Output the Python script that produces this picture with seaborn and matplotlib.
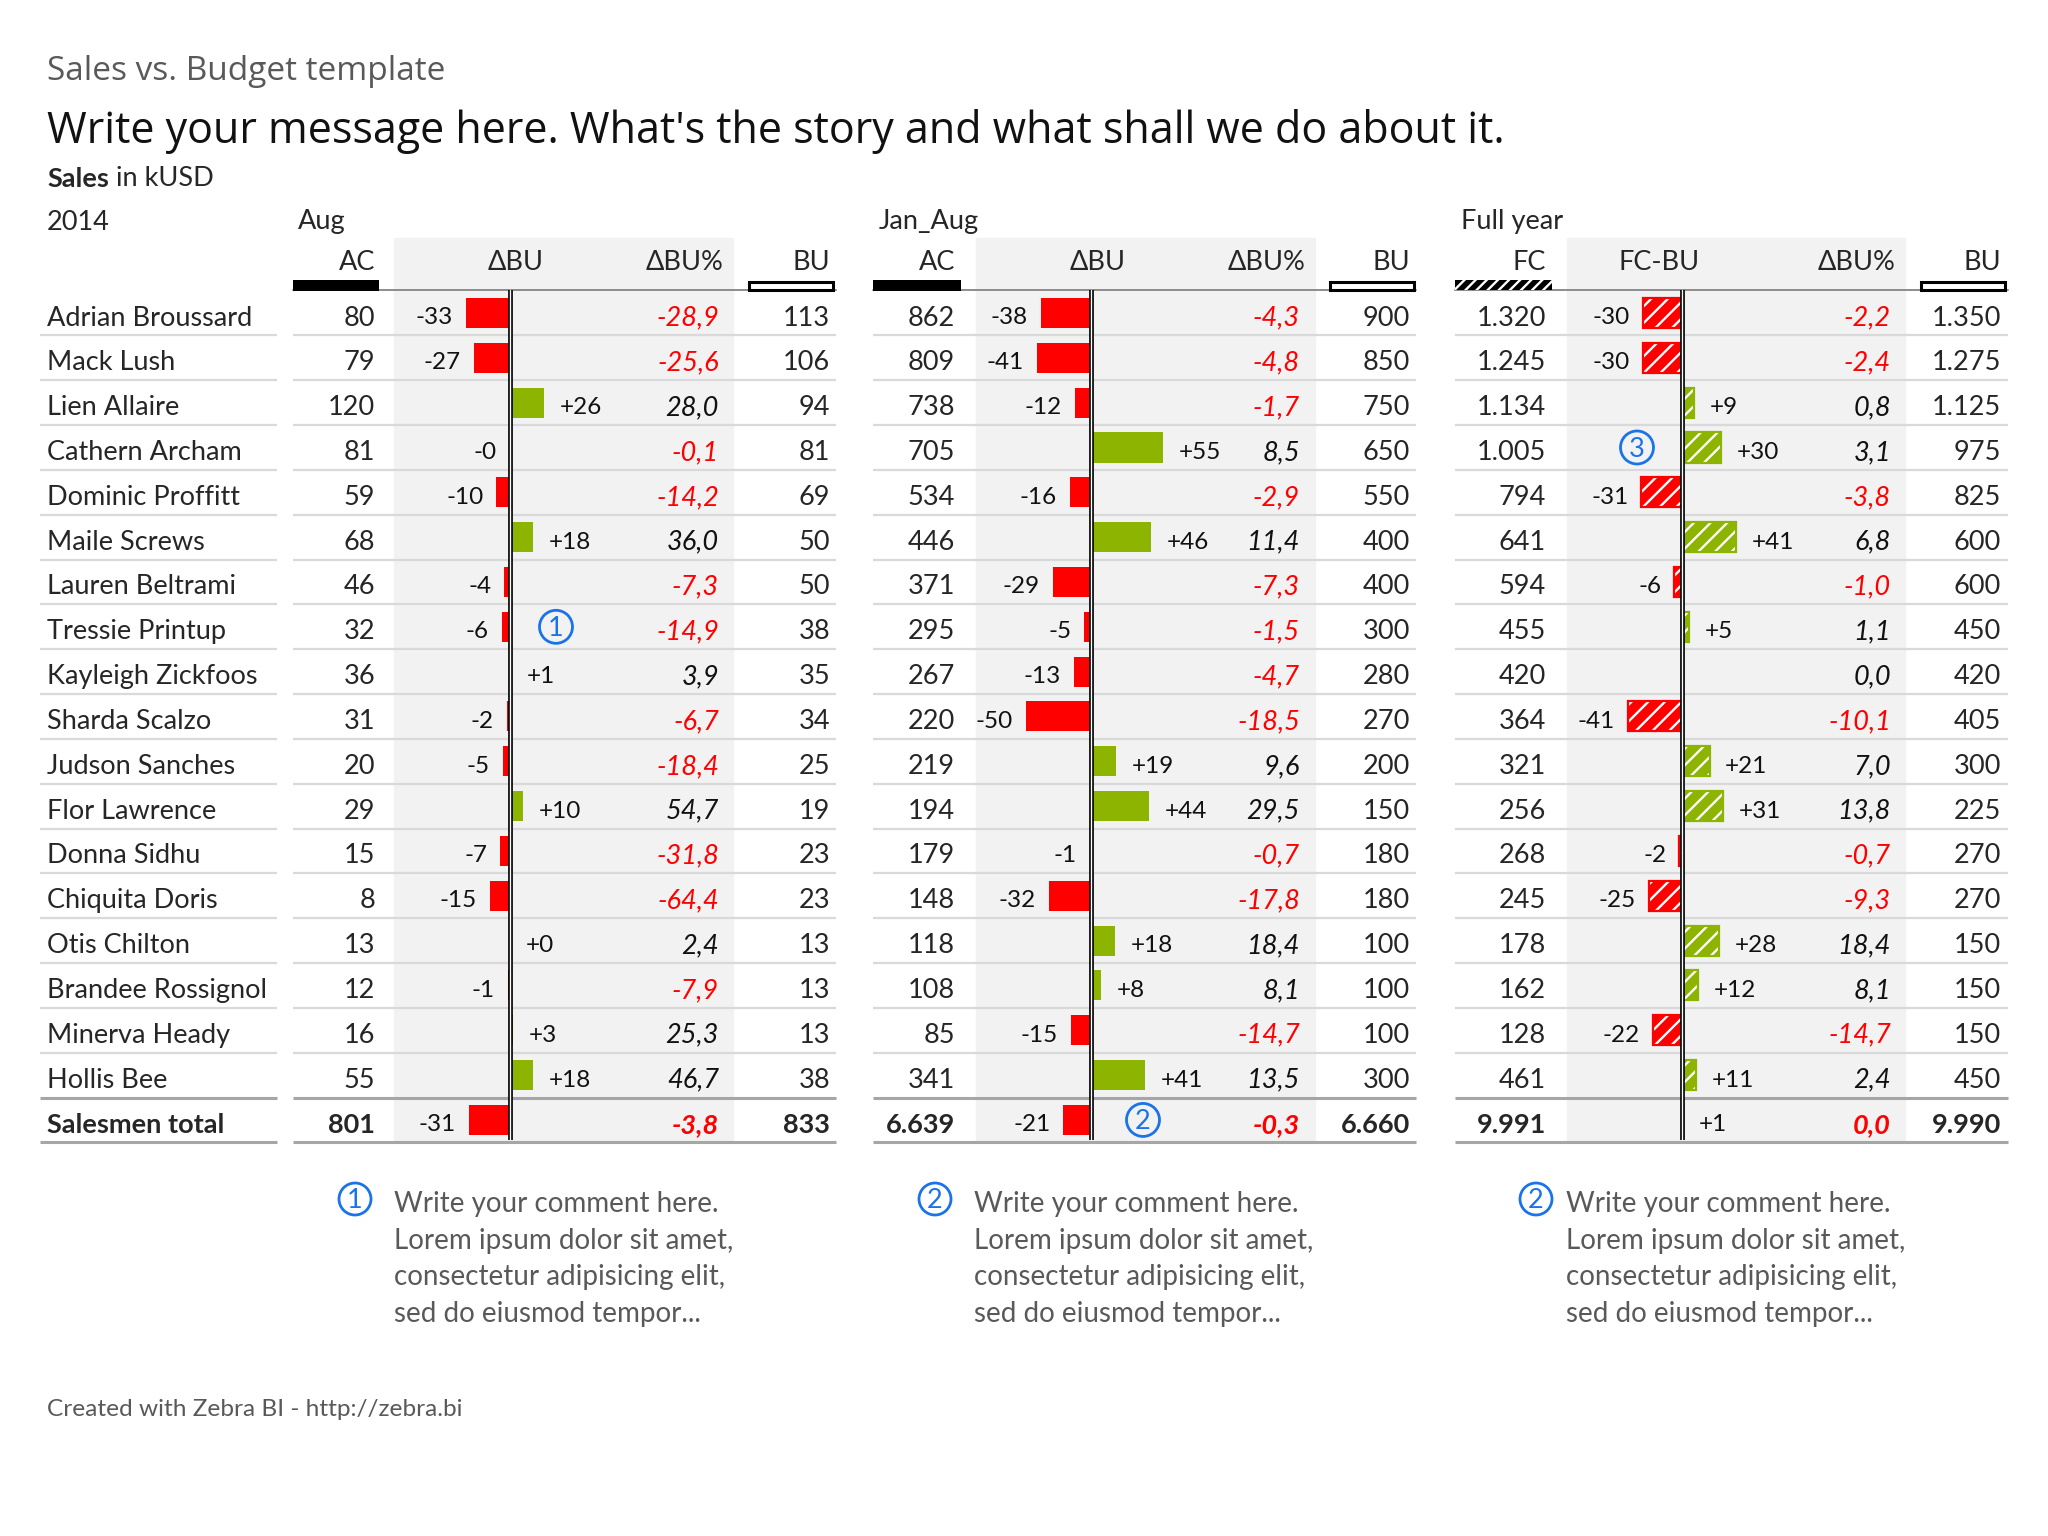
import numpy as np
import pandas as pd
import matplotlib
matplotlib.use("Agg")
import matplotlib.pyplot as plt
from matplotlib.patches import Rectangle, Circle
import seaborn as sns

sns.set_theme(style="white")
plt.rcParams['font.family'] = ['Lato', 'DejaVu Sans']
plt.rcParams['hatch.linewidth'] = 1.7

# ---- data ----
names = ["Adrian Broussard", "Mack Lush", "Lien Allaire", "Cathern Archam",
         "Dominic Proffitt", "Maile Screws", "Lauren Beltrami", "Tressie Printup",
         "Kayleigh Zickfoos", "Sharda Scalzo", "Judson Sanches", "Flor Lawrence",
         "Donna Sidhu", "Chiquita Doris", "Otis Chilton", "Brandee Rossignol",
         "Minerva Heady", "Hollis Bee"]
total_name = "Salesmen total"

aug_ac = [80, 79, 120, 81, 59, 68, 46, 32, 36, 31, 20, 29, 15, 8, 13, 12, 16, 55]
aug_dbu = [-33, -27, 26, -0.08, -10, 18, -4, -6, 1, -2, -5, 10, -7, -15, 0.3, -1, 3, 18]
aug_pct = [-28.9, -25.6, 28.0, -0.1, -14.2, 36.0, -7.3, -14.9, 3.9, -6.7, -18.4, 54.7,
           -31.8, -64.4, 2.4, -7.9, 25.3, 46.7]
aug_bu = [113, 106, 94, 81, 69, 50, 50, 38, 35, 34, 25, 19, 23, 23, 13, 13, 13, 38]
aug_total = [801, -31, -3.8, 833]

ytd_ac = [862, 809, 738, 705, 534, 446, 371, 295, 267, 220, 219, 194, 179, 148, 118, 108, 85, 341]
ytd_dbu = [-38, -41, -12, 55, -16, 46, -29, -5, -13, -50, 19, 44, -1, -32, 18, 8, -15, 41]
ytd_pct = [-4.3, -4.8, -1.7, 8.5, -2.9, 11.4, -7.3, -1.5, -4.7, -18.5, 9.6, 29.5,
           -0.7, -17.8, 18.4, 8.1, -14.7, 13.5]
ytd_bu = [900, 850, 750, 650, 550, 400, 400, 300, 280, 270, 200, 150, 180, 180, 100, 100, 100, 300]
ytd_total = [6639, -21, -0.3, 6660]

fy_fc = [1320, 1245, 1134, 1005, 794, 641, 594, 455, 420, 364, 321, 256, 268, 245, 178, 162, 128, 461]
fy_dbu = [-30, -30, 9, 30, -31, 41, -6, 5, 0, -41, 21, 31, -2, -25, 28, 12, -22, 11]
fy_pct = [-2.2, -2.4, 0.8, 3.1, -3.8, 6.8, -1.0, 1.1, 0.0, -10.1, 7.0, 13.8,
          -0.7, -9.3, 18.4, 8.1, -14.7, 2.4]
fy_bu = [1350, 1275, 1125, 975, 825, 600, 600, 450, 420, 405, 300, 225, 270, 270, 150, 150, 150, 450]
fy_total = [9991, 1, 0.0, 9990]

comment_lines = ["Write your comment here.", "Lorem ipsum dolor sit amet,",
                 "consectetur adipisicing elit,", "sed do eiusmod tempor..."]

# ---- layout (pixels) ----
W, H = 2048, 1536
ROW0, ROWH = 313, 44.83
HDR_LINE, BOTTOM, GREY_TOP = 290, 1140, 238
K = 1.31   # px per unit of delta
DY = 5     # text baseline nudge
RED, GREEN = "#ff0000", "#8cb400"
FS, FS_LAB = 19.5, 17.5

panels = [
    dict(period="Aug", px=298, c1="AC", c2="ΔBU", ac=aug_ac, d=aug_dbu, p=aug_pct, bu=aug_bu,
         tot=aug_total, seg=(293, 836), acbar=(293, 379), bubar=(747, 834), grey=(394, 733),
         axis=509.5, ac_r=375, dlab=516, pct_r=719, bu_r=830, hatch=False, cx=355, tx=394),
    dict(period="Jan_Aug", px=879, c1="AC", c2="ΔBU", ac=ytd_ac, d=ytd_dbu, p=ytd_pct, bu=ytd_bu,
         tot=ytd_total, seg=(873, 1416), acbar=(873, 961), bubar=(1328, 1415), grey=(976, 1315),
         axis=1091, ac_r=955, dlab=1098, pct_r=1300, bu_r=1410, hatch=False, cx=935, tx=974),
    dict(period="Full year", px=1461, c1="FC", c2="FC-BU", ac=fy_fc, d=fy_dbu, p=fy_pct, bu=fy_bu,
         tot=fy_total, seg=(1455, 2008), acbar=(1455, 1552), bubar=(1919, 2006), grey=(1567, 1905),
         axis=1682, ac_r=1546, dlab=1659, pct_r=1891, bu_r=2001, hatch=True, cx=1536, tx=1566),
]


def fint(v):
    return f"{v:,}".replace(",", ".")


def fpct(v):
    return f"{v:.1f}".replace(".", ",")


fig = plt.figure(figsize=(W / 100, H / 100), dpi=100)
lay = fig.add_axes([0, 0, 1, 1])
lay.set_xlim(0, W)
lay.set_ylim(H, 0)
lay.set_axis_off()

# titles
lay.text(47, 72, "Sales vs. Budget template", fontsize=24, color="#595959",
         family="Open Sans", va="center")
lay.text(47, 131, "Write your message here. What's the story and what shall we do about it.",
         fontsize=31, color="#111111", family="Open Sans", va="center")
t = lay.text(47, 179, "Sales", fontsize=FS, fontweight="bold", va="center")
lay.annotate(" in kUSD", xy=(1, 0), xycoords=t, va="bottom", ha="left", fontsize=FS)
lay.text(47, 222, "2014", fontsize=FS, va="center")

rows_y = [ROW0 + ROWH * i for i in range(len(names) + 1)]

# row separators in name column
for i in range(len(names) + 1):
    yy = rows_y[i] + ROWH / 2
    heavy = i >= len(names) - 1
    lay.plot([40, 277], [yy, yy], color="#a6a6a6" if heavy else "#d9d9d9",
             lw=2.2 if heavy else 1.6, solid_capstyle="butt")

for i, nm in enumerate(names + [total_name]):
    lay.text(47, rows_y[i] + DY, nm, fontsize=FS, va="center",
             fontweight="bold" if i == len(names) else "normal")

for P in panels:
    g0, g1 = P["grey"]
    lay.add_patch(Rectangle((g0, GREY_TOP), g1 - g0, BOTTOM - GREY_TOP, color="#f2f2f2", zorder=0))
    lay.text(P["px"], 222, P["period"], fontsize=FS, va="center")
    lay.text(P["ac_r"], 263, P["c1"], fontsize=FS, va="center", ha="right")
    lay.text(P["dlab"], 263, P["c2"], fontsize=FS, va="center", ha="center")
    lay.text(P["pct_r"] + 5, 263, "ΔBU%", fontsize=FS, va="center", ha="right")
    lay.text(P["bu_r"], 263, "BU", fontsize=FS, va="center", ha="right")
    s0, s1 = P["seg"]
    lay.plot([s0, s1], [HDR_LINE, HDR_LINE], color="#8c8c8c", lw=1.4, zorder=2)
    a0, a1 = P["acbar"]
    if P["hatch"]:
        lay.add_patch(Rectangle((a0, 280), a1 - a0, 10, facecolor="black", edgecolor="white",
                                hatch="///", lw=0, zorder=3))
    else:
        lay.add_patch(Rectangle((a0, 280), a1 - a0, 11, facecolor="black", lw=0, zorder=3))
    b0, b1 = P["bubar"]
    lay.add_patch(Rectangle((b0 + 1.5, 281.5), b1 - b0 - 3, 8, facecolor="white",
                            edgecolor="black", lw=2.2, zorder=3))
    for i in range(len(names) + 1):
        yy = rows_y[i] + ROWH / 2
        heavy = i >= len(names) - 1
        lay.plot([s0, s1], [yy, yy], color="#a6a6a6" if heavy else "#d9d9d9",
                 lw=2.2 if heavy else 1.6, solid_capstyle="butt", zorder=1)

    acs = P["ac"] + [P["tot"][0]]
    pcts = P["p"] + [P["tot"][2]]
    bus = P["bu"] + [P["tot"][3]]
    for i in range(len(acs)):
        tot = i == len(names)
        w = "bold" if tot else "normal"
        y = rows_y[i] + DY
        lay.text(P["ac_r"], y, fint(acs[i]), fontsize=FS, va="center", ha="right", fontweight=w)
        lay.text(P["bu_r"], y, fint(bus[i]), fontsize=FS, va="center", ha="right", fontweight=w)
        col = RED if (pcts[i] < 0 or tot) else "#111111"
        lay.text(P["pct_r"], y, fpct(pcts[i]), fontsize=FS, va="center", ha="right",
                 fontweight=w, style="italic", color=col)

    # bar chart for delta column
    deltas = P["d"] + [P["tot"][1]]
    df = pd.DataFrame({"row": names + [total_name], "delta": deltas})
    cols = [RED if v < 0 else GREEN for v in deltas]
    bax = fig.add_axes([g0 / W, 1 - BOTTOM / H, (g1 - g0) / W, (BOTTOM - HDR_LINE) / H])
    sns.barplot(data=df, x="delta", y="row", hue="row", palette=cols, legend=False,
                orient="h", width=0.67, errorbar=None, saturation=1, linewidth=0, ax=bax)
    if P["hatch"]:
        for p in bax.patches:
            p.set_hatch("//")
            p.set_edgecolor("white")
            p.set_linewidth(0)
        sns.barplot(data=df, x="delta", y="row", hue="row", palette=cols, legend=False,
                    orient="h", width=0.67, errorbar=None, saturation=1, fill=False,
                    linewidth=1.6, ax=bax)
    bax.set_xlim((g0 - P["axis"]) / K, (g1 - P["axis"]) / K)
    bax.set_ylim((BOTTOM - ROW0) / ROWH, (HDR_LINE - ROW0) / ROWH)
    bax.set_axis_off()
    bax.patch.set_alpha(0)
    bax.axvline(0, color="black", lw=3.4, zorder=5)
    bax.axvline(0, color="white", lw=1.0, zorder=6)
    dy_rows = DY / ROWH
    for i, v in enumerate(deltas):
        if v == 0:
            continue
        lab = f"{v:+.0f}"
        if v < 0:
            bax.text(v - 10, i + dy_rows, lab, ha="right", va="center", fontsize=FS_LAB, color="#111111")
        else:
            bax.text(v + 12, i + dy_rows, lab, ha="left", va="center", fontsize=FS_LAB, color="#111111")

    # comment block
    lay.add_patch(Circle((P["cx"], 1199), 16, fill=False, edgecolor="#1a73e8", lw=2))
    for j, line in enumerate(comment_lines):
        lay.text(P["tx"], 1199 + DY + 36.6 * j, line, fontsize=20, color="#595959", va="center")

for cx, num in zip([355, 935, 1536], ["1", "2", "2"]):
    lay.text(cx, 1199 + 2, num, fontsize=FS, color="#1a73e8", ha="center", va="center")

# callouts inside the table
for cx, ri, num in [(556, 7, "1"), (1143, 18, "2"), (1637, 3, "3")]:
    lay.add_patch(Circle((cx, rows_y[ri]), 16.5, fill=False, edgecolor="#1a73e8", lw=2, zorder=7))
    lay.text(cx, rows_y[ri] + 2, num, fontsize=FS, color="#1a73e8", ha="center", va="center", zorder=7)

lay.text(47, 1410, "Created with Zebra BI - http://zebra.bi", fontsize=17.6, color="#595959", va="center")

fig.savefig("out.png", dpi=100)
